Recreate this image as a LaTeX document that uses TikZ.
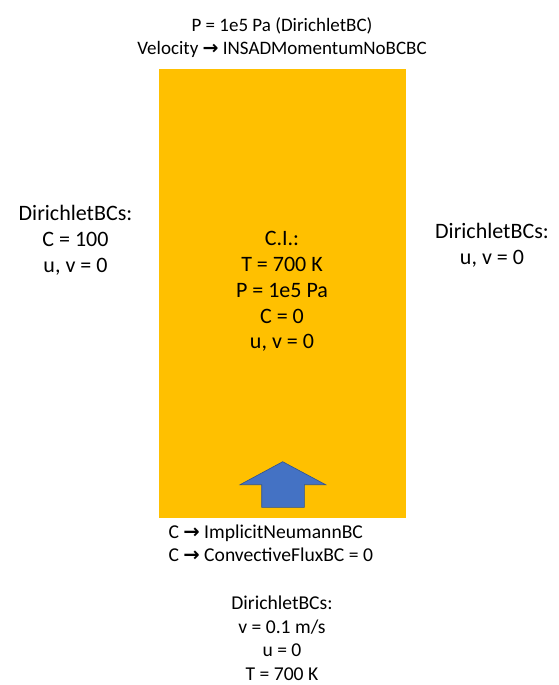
\documentclass[tikz,border=0pt]{standalone}
\usepackage{fontspec}
\setmainfont{Carlito}
\newfontfamily\arrowfont{DejaVu Sans}
\newcommand{\rarr}{{\arrowfont\bfseries →}}
\usetikzlibrary{positioning}
\definecolor{fluidcol}{HTML}{FFC000}
\definecolor{inflowcol}{HTML}{4472C4}
\definecolor{inflowline}{HTML}{2F528F}
\tikzset{bc/.style = {inner sep=0pt, anchor=north, align=center}}
\tikzset{big/.style = {font=\fontsize{22}{25.7}\selectfont}}
\tikzset{small/.style = {font=\fontsize{19}{22.7}\selectfont}}

\begin{document}
\begin{tikzpicture}[x=1pt, y=-1pt]
\useasboundingbox (0,0) rectangle (558,685);

\fill[fluidcol] (159,69) rectangle (406,518);

\draw[fill=inflowcol, draw=inflowline, line width=0.6pt] (282.7,461.7) -- (325.7,484.7) -- (304.3,484.7) -- (304.3,507.3) -- (261.7,507.3) -- (261.7,484.7) -- (240,484.7) -- cycle;

\node[bc, small] (top) at (282,17.5) {P = 1e5 Pa (DirichletBC)\\Velocity \rarr{} INSADMomentumNoBCBC};
\node[bc, big] (left) at (75.5,205.5) {DirichletBCs:\\C = 100\\u, v = 0};
\node[bc, big] (right) at (492,223) {DirichletBCs:\\u, v = 0};
\node[bc, big] (ci) at (282,231.5) {C.I.:\\T = 700 K\\P = 1e5 Pa\\C = 0\\u, v = 0};
\node[bc, font=\fontsize{19.6}{22.7}\selectfont, anchor=north west, align=left] (outlet) at (168.3,524.5) {C \rarr{} ImplicitNeumannBC\\C \rarr{} ConvectiveFluxBC = 0};
\node[bc, font=\fontsize{19.6}{23.5}\selectfont] (inlet) at (282,596) {DirichletBCs:\\v = 0.1 m/s\\u = 0\\T = 700 K};

\end{tikzpicture}
\end{document}
